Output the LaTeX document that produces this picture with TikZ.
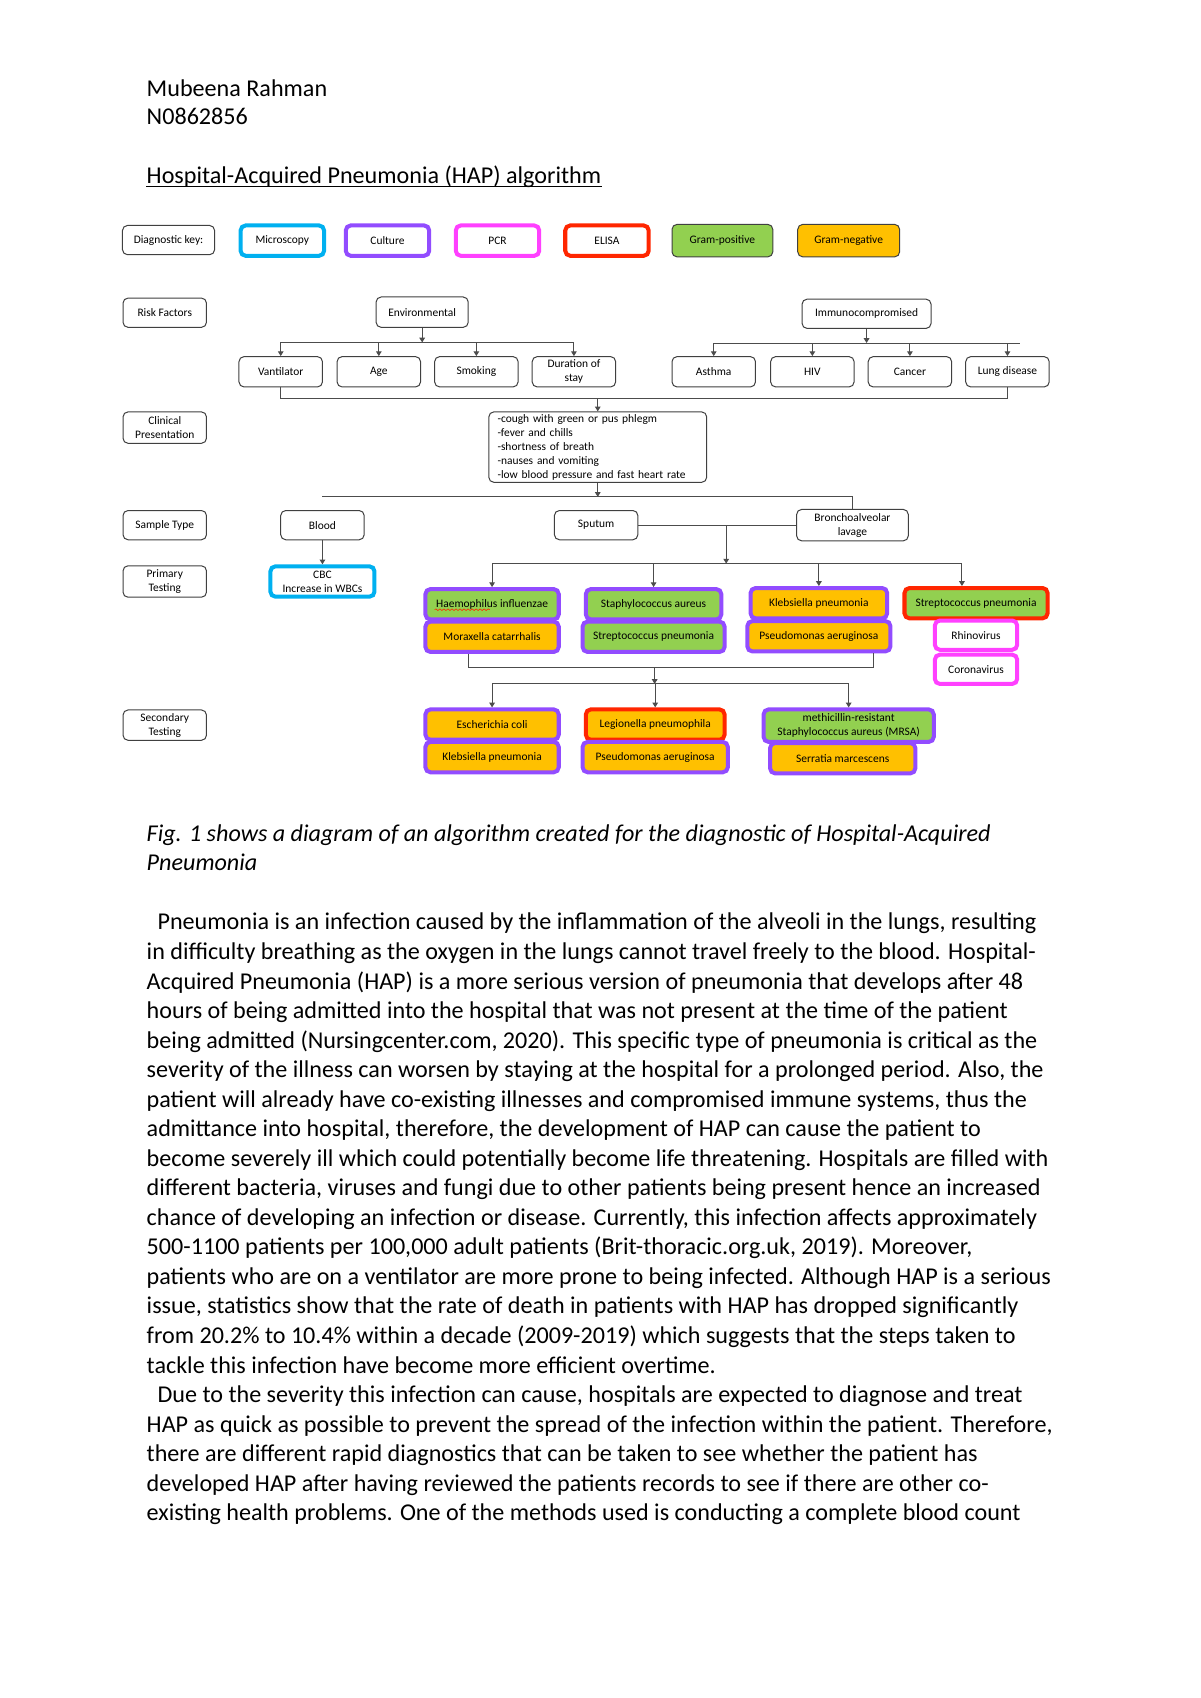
\documentclass[tikz,border=0pt]{standalone}
\usepackage{fontspec}
\setmainfont{Carlito}
\usetikzlibrary{arrows.meta,calc,decorations.pathmorphing}

\newlength\unitpx
\setlength\unitpx{0.018958cm}
\definecolor{keyCyan}{RGB}{0,176,240}
\definecolor{keyPurple}{RGB}{146,76,255}
\definecolor{keyPink}{RGB}{255,64,255}
\definecolor{keyRed}{RGB}{255,38,0}
\definecolor{keyGreen}{RGB}{146,208,80}
\definecolor{keyOrange}{RGB}{255,192,0}
\newcommand{\diagfont}{\fontsize{5.7}{7}\selectfont}
\newcommand{\bodyfont}{\fontsize{12}{14.65}\selectfont}

\begin{document}
\begin{tikzpicture}[
    x=0.018958cm, y=-0.018958cm,
    every node/.style={align=center, inner sep=0.5pt},
    box/.style={rectangle, rounded corners=2.5pt, draw=black!75, line width=0.5pt, fill=white, font=\diagfont, minimum width=77\unitpx, minimum height=28\unitpx},
    microBorder/.style={draw=keyCyan, line width=2pt},
    cultureBorder/.style={draw=keyPurple, line width=2pt},
    pcrBorder/.style={draw=keyPink, line width=2pt},
    elisaBorder/.style={draw=keyRed, line width=2pt},
    gramPos/.style={fill=keyGreen},
    gramNeg/.style={fill=keyOrange},
    link/.style={draw=black!70, line width=0.5pt},
    arrow/.style={link, -{Triangle[length=2.4pt,width=2.8pt]}},
    textLine/.style={anchor=base west, inner sep=0pt, font=\bodyfont},
    captionLine/.style={textLine, font=\bodyfont\itshape}
]
\fill[white] (0,0) rectangle (1107.7,1566.6);
\useasboundingbox (0,0) rectangle (1107.7,1566.6);

% Header
\node[textLine] (author) at (135,88.6) {Mubeena Rahman};
\node[textLine] (studentId) at (135,115) {N0862856};
\node[textLine] (title) at (135,169) {Hospital-Acquired Pneumonia (HAP) algorithm};
\draw[line width=0.6pt] ($(title.base west)+(0,3)$) -- ($(title.base east)+(0,3)$);

% Key
\node[box, minimum width=85\unitpx, minimum height=27\unitpx] (keyLabel) at (155.5,221.5) {Diagnostic key:};
\node[box, microBorder] (keyMicro) at (260.5,222) {Microscopy};
\node[box, cultureBorder] (keyCulture) at (357.5,222) {Culture};
\node[box, pcrBorder] (keyPcr) at (459,222) {PCR};
\node[box, elisaBorder] (keyElisa) at (560,222) {ELISA};
\node[box, gramPos, minimum width=93\unitpx, minimum height=30\unitpx] (keyGramPos) at (666.5,222) {Gram-positive};
\node[box, gramNeg, minimum width=94\unitpx, minimum height=30\unitpx] (keyGramNeg) at (783,222) {Gram-negative};

% Risk factors
\node[box, minimum height=27\unitpx] (riskLabel) at (152,288.5) {Risk Factors};
\node[box, minimum width=85\unitpx] (env) at (389.5,288) {Environmental};
\node[box, minimum width=119\unitpx, minimum height=27\unitpx] (immuno) at (799.5,289.5) {Immunocompromised};
\node[box] (vent) at (259,343) {Vantilator};
\node[box] (age) at (349.5,343) {Age};
\node[box] (smoke) at (439.5,343) {Smoking};
\node[box] (stay) at (529.5,343) {Duration of\\stay};
\node[box] (asthma) at (658.5,343) {Asthma};
\node[box] (hiv) at (749.5,343) {HIV};
\node[box] (cancer) at (839.5,343) {Cancer};
\node[box] (lung) at (929.5,343) {Lung disease};

% Clinical presentation
\node[box, minimum height=29\unitpx] (clinLabel) at (152,394.5) {Clinical\\Presentation};
\node[box, minimum width=201\unitpx, minimum height=65\unitpx, text width=185\unitpx, align=left] (clin) at (551.5,412.5) {-cough with green or pus phlegm\\-fever and chills\\-shortness of breath\\-nauses and vomiting\\-low blood pressure and fast heart rate};

% Sample type
\node[box, minimum height=27\unitpx] (sampleLabel) at (152,484.5) {Sample Type};
\node[box, minimum height=27\unitpx] (blood) at (297.5,484.5) {Blood};
\node[box, minimum height=27\unitpx] (sputum) at (550,484.5) {Sputum};
\node[box, minimum width=103\unitpx, minimum height=29\unitpx] (broncho) at (786.5,484.5) {Bronchoalveolar\\lavage};

% Primary testing
\node[box, minimum height=29\unitpx] (primLabel) at (152,536.5) {Primary\\Testing};
\node[box, microBorder, minimum width=96\unitpx, minimum height=28\unitpx] (cbc) at (297.5,536.5) {CBC\\Increase in WBCs};
\node[box, cultureBorder, gramPos, minimum width=123\unitpx] (haem) at (454,557.5) {Haemophilus influenzae};
\node[box, cultureBorder, gramNeg, minimum width=123\unitpx] (morax) at (454,587.5) {Moraxella catarrhalis};
\node[box, cultureBorder, gramPos, minimum width=125\unitpx] (staph) at (603,557.5) {Staphylococcus aureus};
\node[box, cultureBorder, gramPos, minimum width=131\unitpx] (strepPn) at (603,587.5) {Streptococcus pneumonia};
\node[box, cultureBorder, gramNeg, minimum width=126\unitpx] (kleb) at (755.5,556.5) {Klebsiella pneumonia};
\node[box, cultureBorder, gramNeg, minimum width=132\unitpx] (pseudo) at (755.5,587) {Pseudomonas aeruginosa};
\node[box, elisaBorder, gramPos, minimum width=132\unitpx] (strepRed) at (900.5,556.5) {Streptococcus pneumonia};
\node[box, pcrBorder, minimum width=76\unitpx, minimum height=27\unitpx] (rhino) at (900.5,586) {Rhinovirus};
\node[box, pcrBorder, minimum width=76\unitpx, minimum height=27\unitpx] (corona) at (900.5,617.5) {Coronavirus};
\draw[keyRed, line width=0.3pt, decorate, decoration={snake, amplitude=0.4pt, segment length=2pt}] ($(haem.center)+(-53,5)$) -- ($(haem.center)+(-2,5)$);

% Secondary testing
\node[box] (secLabel) at (152,669) {Secondary\\Testing};
\node[box, cultureBorder, gramNeg, minimum width=123\unitpx] (esch) at (454,668.5) {Escherichia coli};
\node[box, cultureBorder, gramNeg, minimum width=123\unitpx] (klebPn) at (454,698.5) {Klebsiella pneumonia};
\node[box, elisaBorder, gramNeg, minimum width=128\unitpx] (legion) at (604.5,668.5) {Legionella pneumophila};
\node[box, cultureBorder, gramNeg, minimum width=134\unitpx] (pseudoSec) at (604.5,698.5) {Pseudomonas aeruginosa};
\node[box, cultureBorder, gramPos, minimum width=157\unitpx, minimum height=30\unitpx] (mrsa) at (783,669.5) {methicillin-resistant\\Staphylococcus aureus (MRSA)};
\node[box, cultureBorder, gramNeg, minimum width=134\unitpx] (serratia) at (777.5,699.5) {Serratia marcescens};

% Arrows
\coordinate (envBus) at ($(env.south)+(0,13.5)$);
\draw[arrow] (env) -- (envBus);
\foreach \c in {vent,age,smoke,stay}
    \draw[arrow] (envBus) -| (\c.north);
\coordinate (immunoBus) at ($(immuno.south)+(0,13)$);
\draw[arrow] (immuno) -- (immunoBus);
\foreach \c in {asthma,hiv,cancer,lung}
    \draw[arrow] (immunoBus) -| (\c.north);
\draw[link] (immunoBus -| lung.north) -- ++(12,0);
\coordinate (riskJoin) at ($(vent.south)+(0,10)$);
\draw[link] (vent.south) -- (riskJoin) -| (lung.south);
\draw[arrow] (riskJoin -| clin.north) -- (clin.north);

\coordinate (clinBus) at ($(clin.south)+(0,13)$);
\draw[arrow] (clin) -- (clinBus);
\draw[link] (clinBus) -- (clinBus -| blood.north);
\draw[link] (clinBus) -| (broncho.north);
\draw[arrow] (blood) -- (cbc);

\draw[link] (sputum) -- (broncho);
\coordinate (sampleJoin) at (670,484.5);
\coordinate (primBus) at (670,520);
\draw[arrow] (sampleJoin) -- (primBus);
\foreach \g in {haem,staph,kleb}
    \draw[arrow] (primBus) -| (\g.north);
\draw[arrow] (primBus) -| ($(strepRed.north)+(-13,0)$);

\coordinate (primJoin) at (604,616);
\draw[link] ($(morax.south)+(-22,0)$) |- (primJoin) -| ($(pseudo.south)+(50,0)$);
\coordinate (secBus) at (604,631);
\draw[arrow] (primJoin) -- (secBus);
\foreach \s in {esch,legion,mrsa}
    \draw[arrow] (secBus) -| (\s.north);

% Caption and text
\node[captionLine] (caption1) at (135,776.4) {Fig. 1 shows a diagram of an algorithm created for the diagnostic of Hospital-Acquired};
\node[captionLine] (caption2) at (135,803.5) {Pneumonia};

\foreach \txt [count=\i] in {
    {\hspace*{10\unitpx}Pneumonia is an infection caused by the inflammation of the alveoli in the lungs, resulting},
    {in difficulty breathing as the oxygen in the lungs cannot travel freely to the blood. Hospital-},
    {Acquired Pneumonia (HAP) is a more serious version of pneumonia that develops after 48},
    {hours of being admitted into the hospital that was not present at the time of the patient},
    {being admitted (Nursingcenter.com, 2020). This specific type of pneumonia is critical as the},
    {severity of the illness can worsen by staying at the hospital for a prolonged period. Also, the},
    {patient will already have co-existing illnesses and compromised immune systems, thus the},
    {admittance into hospital, therefore, the development of HAP can cause the patient to},
    {become severely ill which could potentially become life threatening. Hospitals are filled with},
    {different bacteria, viruses and fungi due to other patients being present hence an increased},
    {chance of developing an infection or disease. Currently, this infection affects approximately},
    {500-1100 patients per 100,000 adult patients (Brit-thoracic.org.uk, 2019). Moreover,},
    {patients who are on a ventilator are more prone to being infected. Although HAP is a serious},
    {issue, statistics show that the rate of death in patients with HAP has dropped significantly},
    {from 20.2\% to 10.4\% within a decade (2009-2019) which suggests that the steps taken to},
    {tackle this infection have become more efficient overtime.},
    {\hspace*{10\unitpx}Due to the severity this infection can cause, hospitals are expected to diagnose and treat},
    {HAP as quick as possible to prevent the spread of the infection within the patient. Therefore,},
    {there are different rapid diagnostics that can be taken to see whether the patient has},
    {developed HAP after having reviewed the patients records to see if there are other co-},
    {existing health problems. One of the methods used is conducting a complete blood count}}
    \node[textLine] (body\i) at (135,{858+27.25*(\i-1)}) {\txt};

\end{tikzpicture}
\end{document}
